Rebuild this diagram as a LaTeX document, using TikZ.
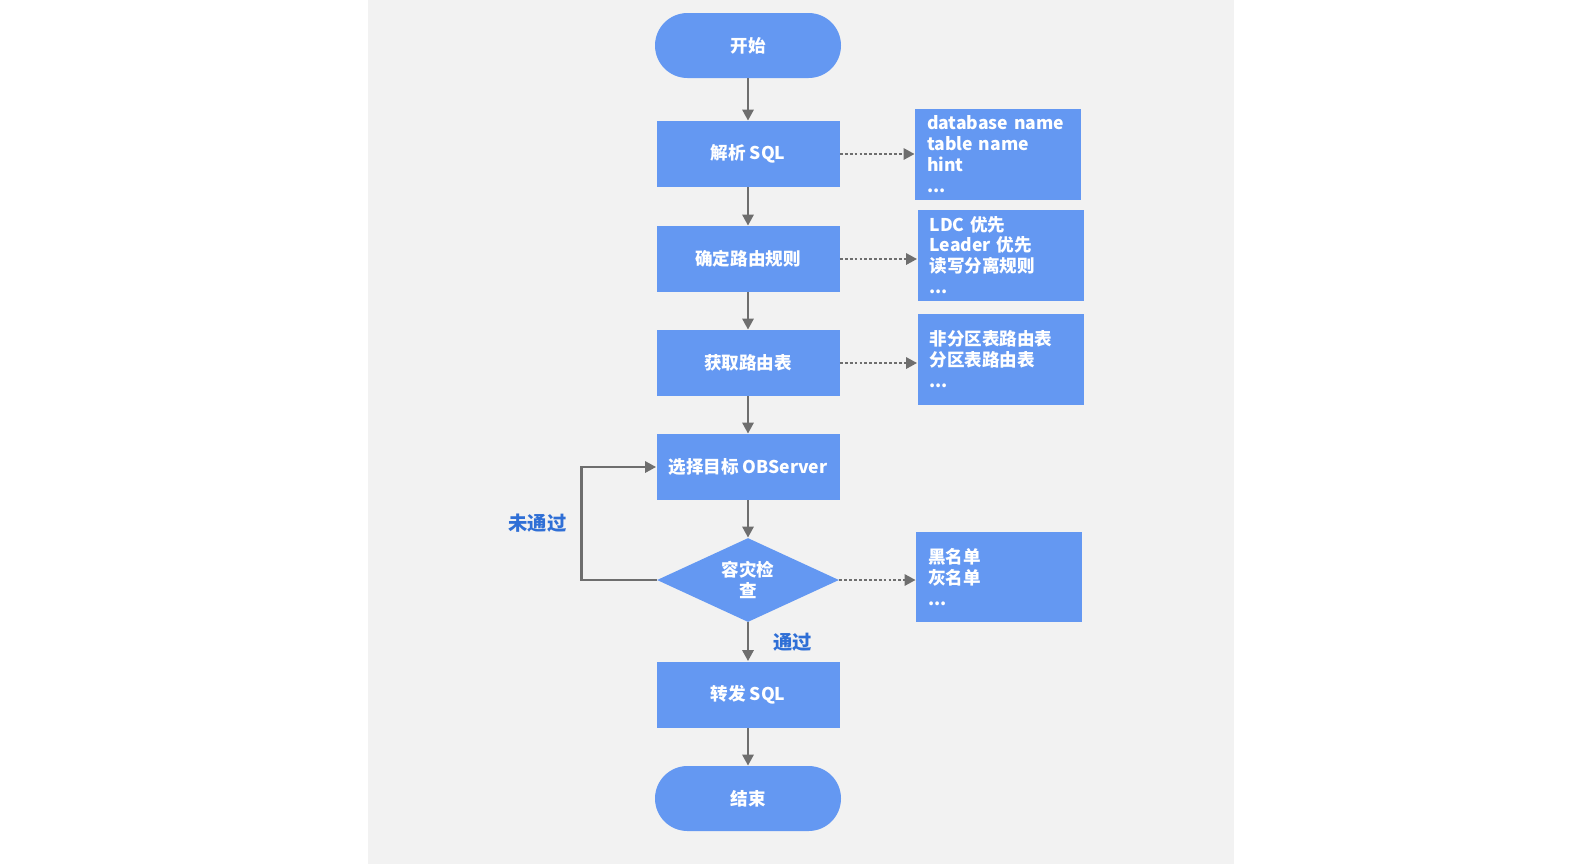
\documentclass[tikz,border=0pt]{standalone}
\usepackage{fontspec}
\setmainfont{Noto Sans CJK SC}
\usepackage{xcolor}
\usetikzlibrary{shapes,arrows.meta,positioning}

\definecolor{boxblue}{HTML}{6498F2}
\definecolor{linegray}{HTML}{6E6E6E}
\definecolor{lblblue}{HTML}{2F6FD6}
\definecolor{panel}{HTML}{F2F2F2}

\begin{document}
\begin{tikzpicture}[
    node distance=2.08cm,
    box/.style={fill=boxblue, text=white, minimum width=3.66cm, minimum height=1.32cm, align=center, font=\fontsize{10}{11.5}\selectfont\bfseries},
    term/.style={box, rounded corners=0.65cm, minimum width=3.72cm, minimum height=1.3cm},
    decision/.style={box, diamond, aspect=2.17, inner sep=0pt, minimum width=3.64cm, minimum height=1.68cm},
    info/.style={fill=boxblue, text=white, text width=2.84cm, inner xsep=0.24cm, inner ysep=0pt, minimum height=1.82cm, align=left, font=\fontsize{10}{11.9}\selectfont\bfseries},
    arrow/.style={-{Triangle[length=0.22cm,width=0.22cm]}, line width=1.6pt, draw=linegray},
    dotarrow/.style={arrow, dash pattern=on 1.6pt off 1.2pt},
    lbl/.style={text=lblblue, font=\fontsize{11}{13}\selectfont\bfseries}
]
    \useasboundingbox (0,0) rectangle (31.4,-17.28);
    \fill[panel] (7.36,0) rectangle (24.68,-17.28);

    \node[term] (start) at (14.96,-0.91) {开始};
    \node[box, below of=start, yshift=-0.09cm] (parse) {解析 SQL};
    \node[box, below of=parse, yshift=-0.02cm] (route) {确定路由规则};
    \node[box, below of=route] (table) {获取路由表};
    \node[box, below of=table] (select) {选择目标 OBServer};
    \node[decision, below of=select, yshift=-0.18cm] (check) {容灾检\\查};
    \node[box, below of=check, yshift=-0.21cm] (forward) {转发 SQL};
    \node[term, below of=forward] (end) {结束};

    \node[info, right of=parse, xshift=2.92cm] (names) {database name\\table name\\hint\\...};
    \node[info, right of=route, xshift=2.97cm, yshift=0.08cm] (rules) {LDC 优先\\Leader 优先\\读写分离规则\\...};
    \node[info, right of=table, xshift=2.97cm, yshift=0.08cm] (tables) {非分区表路由表\\分区表路由表\\...};
    \node[info, right of=check, xshift=2.94cm, yshift=0.06cm, minimum height=1.8cm] (lists) {黑名单\\灰名单\\...};

    \draw[arrow] (start) -- (parse);
    \draw[arrow] (parse) -- (route);
    \draw[arrow] (route) -- (table);
    \draw[arrow] (table) -- (select);
    \draw[arrow] (select) -- (check);
    \draw[arrow] (check) -- node[lbl, right=0.36cm] {通过} (forward);
    \draw[arrow] (forward) -- (end);
    \draw[arrow] (check.west) -- ++(-1.5,0) |- node[lbl, pos=0.25, left=0.16cm] {未通过} (select.west);

    \draw[dotarrow] (parse.east) -- (parse.east -| names.west);
    \draw[dotarrow] (route.east) -- (route.east -| rules.west);
    \draw[dotarrow] (table.east) -- (table.east -| tables.west);
    \draw[dotarrow] (check.east) -- (check.east -| lists.west);
\end{tikzpicture}
\end{document}
